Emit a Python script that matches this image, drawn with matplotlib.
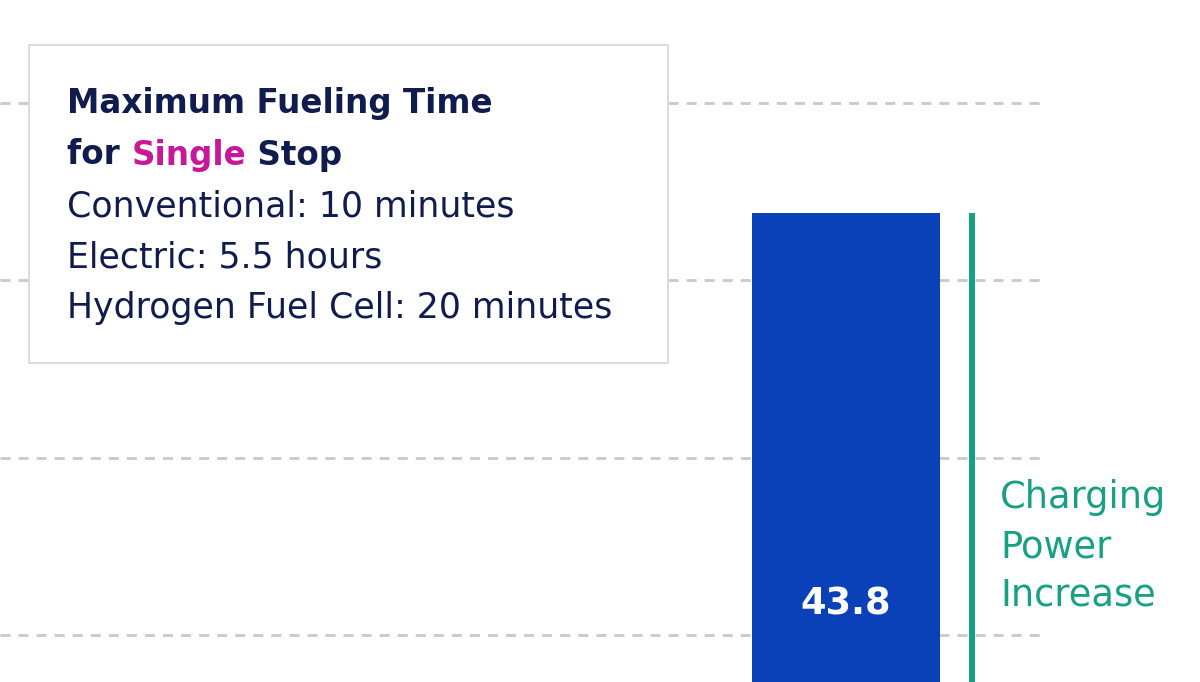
import matplotlib.pyplot as plt
from matplotlib.patches import Rectangle

# data
bar_labels = ["Electric"]
bar_values = [43.8]
grid_values = [20, 30, 40, 50]
box_title = ["Maximum Fueling Time", "for ", "Single", " Stop"]
box_lines = ["Conventional: 10 minutes", "Electric: 5.5 hours", "Hydrogen Fuel Cell: 20 minutes"]
note_lines = ["Charging", "Power", "Increase"]

navy = "#0f1c4d"
blue = "#0a40b8"
green = "#17a084"
magenta = "#c8189a"
grid_col = "#c9c9c9"

plt.rcParams['font.family'] = ['DejaVu Sans']

W, H = 1200, 682
fig = plt.figure(figsize=(W / 100, H / 100), dpi=100)
ax = fig.add_axes([0, 0, 1, 1])
ax.set_xlim(-4.5, 1.883)
ax.set_ylim(17.35, 55.8)
ax.axis('off')

# dashed gridlines
for g in grid_values:
    ax.axhline(g, xmin=0, xmax=1042 / W, color=grid_col, lw=2,
               dashes=(3.6, 2.9), zorder=1)

# bar
xs = range(len(bar_values))
ax.bar(xs, bar_values, width=1.0, bottom=0, color=blue, zorder=3)
for x, v in zip(xs, bar_values):
    ax.text(x, 21.75, f"{v}", color="white", fontsize=26.5, fontweight="bold",
            ha="center", va="center", zorder=4)

# green marker line + note
gx = 0.67
ax.vlines(gx, ax.get_ylim()[0], bar_values[0], color=green, lw=4.3, zorder=3)
for i, line in enumerate(note_lines):
    fig.text(1000 / W, 1 - (498 + 48.5 * i) / H, line, color=green,
             fontsize=26.5, ha="left", va="center", zorder=4)

# info box
fig.patches.append(Rectangle((29 / W, 1 - 363 / H), (668 - 29) / W, (363 - 45) / H,
                             transform=fig.transFigure, facecolor="white",
                             edgecolor="#d6d6d6", lw=1.2, zorder=5))

renderer = fig.canvas.get_renderer()
x0 = 67 / W
fig.text(x0, 1 - 103 / H, box_title[0], color=navy, fontsize=23.5,
         fontweight="bold", va="center", zorder=6)
x = x0
for part, col in zip(box_title[1:], [navy, magenta, navy]):
    t = fig.text(x, 1 - 155 / H, part, color=col, fontsize=23.5,
                 fontweight="bold", va="center", zorder=6)
    bb = t.get_window_extent(renderer)
    x = bb.x1 / W

for i, line in enumerate(box_lines):
    fig.text(x0, 1 - (207 + 50.5 * i) / H, line, color=navy, fontsize=25,
             va="center", zorder=6)

fig.savefig("out.png", dpi=100)
